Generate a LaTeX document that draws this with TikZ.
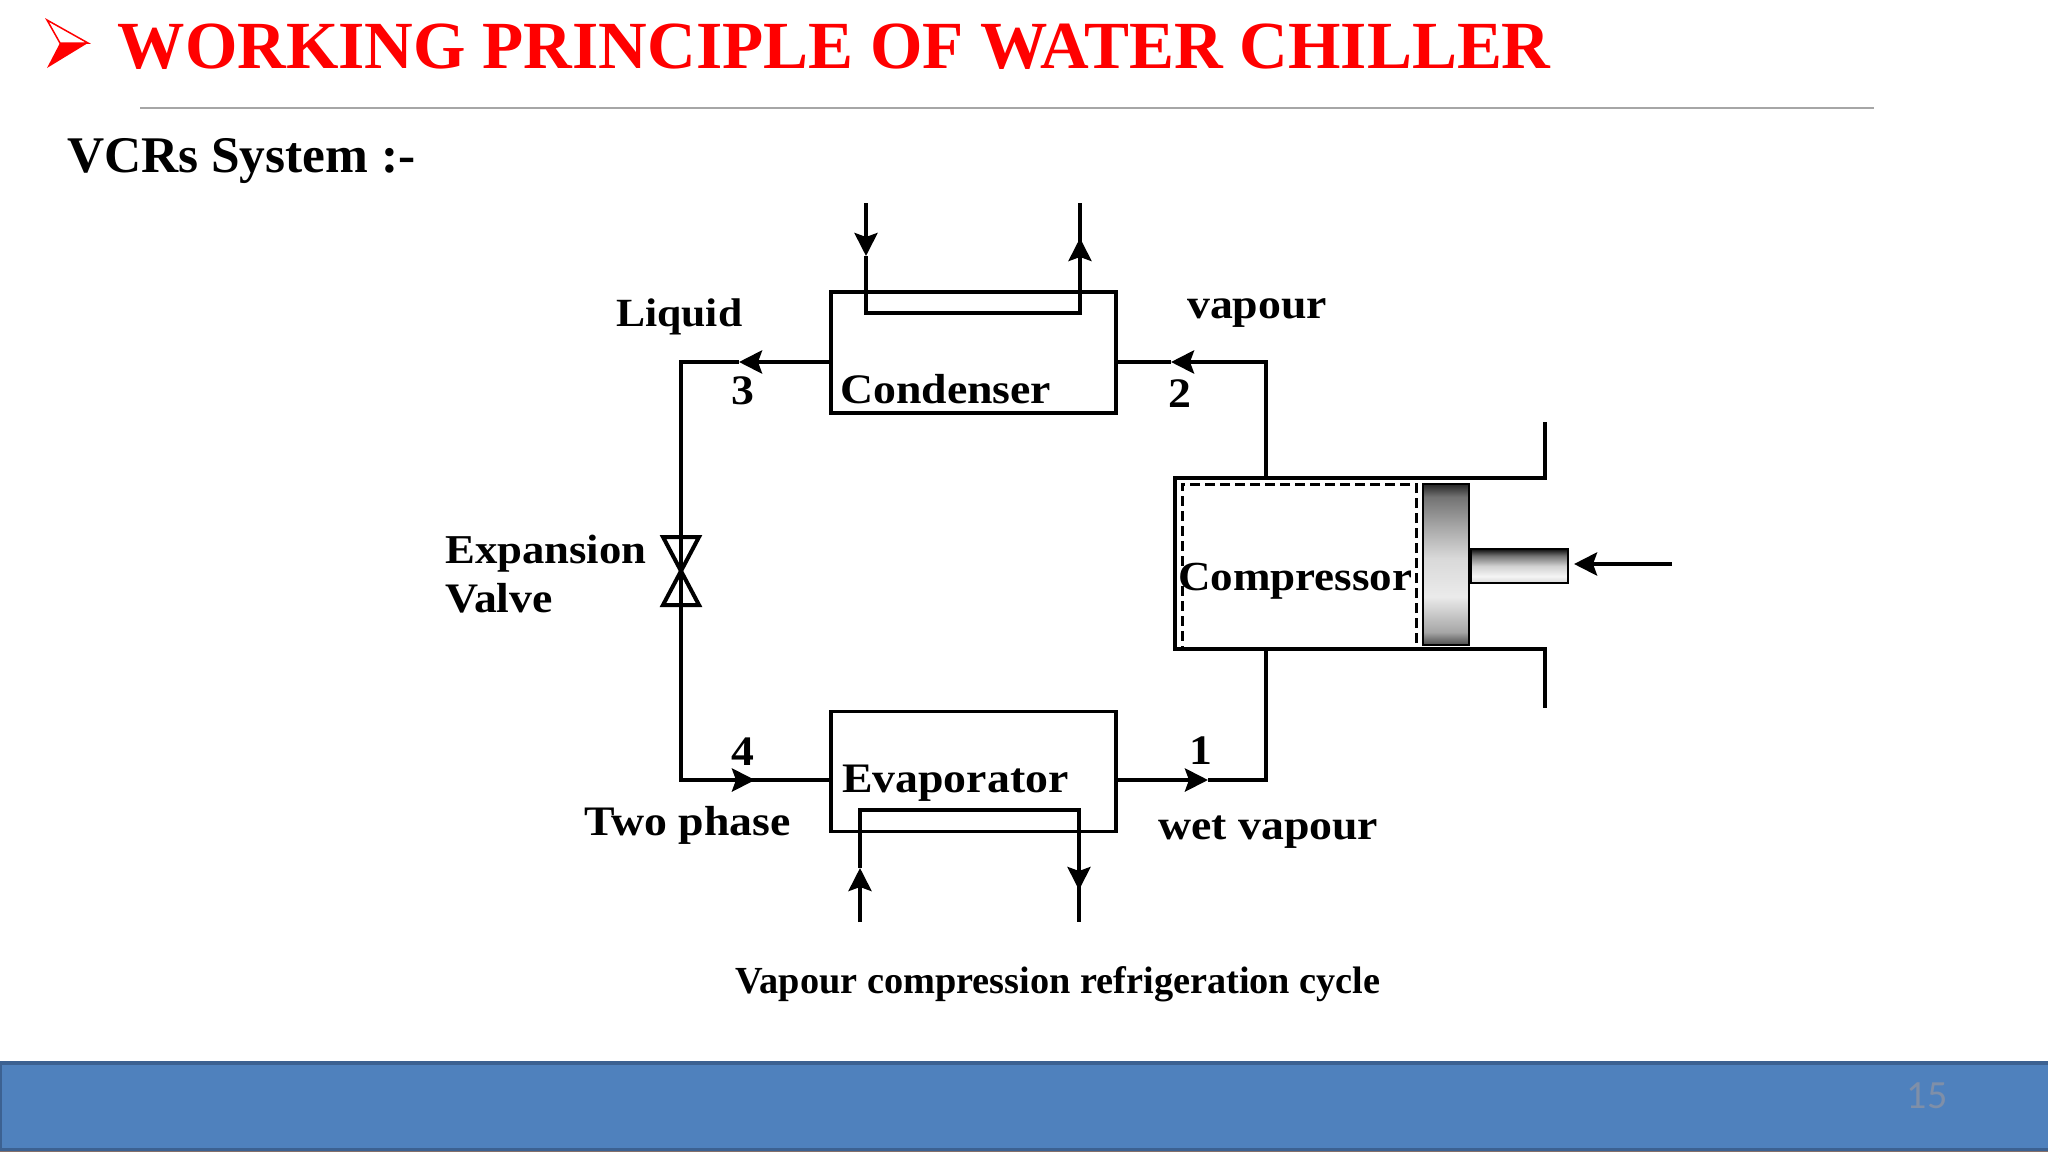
\documentclass[tikz,border=0pt]{standalone}
\usepackage{fontspec}
\setmainfont{Liberation Serif}
\newfontfamily\labelfamily[FakeStretch=1.09]{Liberation Serif}
\newfontfamily\pagefamily{Carlito}
\usetikzlibrary{arrows.meta}
\usetikzlibrary{positioning}
\definecolor{footerblue}{HTML}{4F81BD}
\definecolor{footeredge}{HTML}{3C6191}
\definecolor{footerstrip}{HTML}{85706A}
\definecolor{pagegrey}{HTML}{7F8FA8}
\pgfdeclareverticalshading{pistonshade}{100bp}{color(0bp)=(black!70);color(25bp)=(black!70);color(29bp)=(black!35);color(40bp)=(black!8);color(52bp)=(black!15);color(62bp)=(black!35);color(71bp)=(black!55);color(75bp)=(black!85);color(100bp)=(black!85)}
\pgfdeclareverticalshading{rodshade}{100bp}{color(0bp)=(black!15);color(25bp)=(black!15);color(35bp)=(black!4);color(50bp)=(black!18);color(65bp)=(black!55);color(75bp)=(black!95);color(100bp)=(black!95)}

\begin{document}
\begin{tikzpicture}
      [x=1pt,y=-1pt,
      wire/.style={line width=4.4pt},
      coil/.style={line width=4pt},
      unitbox/.style={shape=rectangle,draw,line width=3.6pt,inner sep=0},
      flowtip/.style={-{Stealth[length=23pt,width=23pt,inset=4pt]}},
      textlabel/.style={anchor=base west,inner sep=0,font=\labelfamily\bfseries\fontsize{42}{42}\selectfont}]
\useasboundingbox (0,0) rectangle (2048,1152);

\node (footer) [shape=rectangle,fill=footerblue,draw=footeredge,line width=4pt,
   minimum width=2052pt,minimum height=87pt,anchor=north west,inner sep=0] at (-2,1061) {};
\fill[footerstrip] (0,1150.5) rectangle (2048,1152);
\node (pagenum) [anchor=base,inner sep=0,text=pagegrey,font=\pagefamily\fontsize{40}{40}\selectfont] at (1927,1108) {15};

\fill[red] (60,43) -- (88,43) -- (47,68) -- cycle;
\draw[red,line width=1.5pt,line join=miter] (47,20) -- (88,43) -- (60,43) -- cycle;
\node (title) [anchor=base west,inner sep=0,text=red,font=\bfseries\fontsize{67.4}{67.4}\selectfont] at (117.5,68) {WORKING PRINCIPLE OF WATER CHILLER};
\node (titlerule) [shape=rectangle,fill=black!35,minimum width=1734pt,minimum height=1.5pt,inner sep=0,anchor=west] at (140,108) {};
\node (subtitle) [anchor=base west,inner sep=0,font=\bfseries\fontsize{51.4}{51.4}\selectfont] at (67,172) {VCRs System :-};

% condenser and evaporator
\node (condenser) [unitbox,minimum width=285pt,minimum height=121pt] at (973.5,352.5) {};
\node (evaporator) [unitbox,minimum width=285pt,minimum height=120pt] at (973.5,771.5) {};
\node (condensertext) [textlabel] at (840,403) {Condenser};
\node (evaporatortext) [textlabel] at (842,792) {Evaporator};

% compressor
\node (compressor) [shape=rectangle,draw,dashed,line width=3pt,dash pattern=on 10pt off 5pt,
   minimum width=234pt,minimum height=165pt,inner sep=0] at (1299,566.5) {};
\node (comptext) [textlabel,font=\labelfamily\bfseries\fontsize{41.3}{41.3}\selectfont] at (1178,590) {Compressor};
\node (piston) [shape=rectangle,draw,line width=2pt,shading=pistonshade,minimum width=46pt,minimum height=161pt,inner sep=0] at (1446,564.5) {};
\node (rod) [shape=rectangle,draw,line width=1.5pt,shading=rodshade,minimum width=97pt,minimum height=34pt,inner sep=0,anchor=west] at (piston.east |- 0,566) {};

\coordinate (cyltopend) at (1545,422);
\coordinate (cyltopright) at (1545,478);
\coordinate (cyltopleft) at (1175,478);
\coordinate (cylbotleft) at (1175,649);
\coordinate (cylbotright) at (1545,649);
\coordinate (cylbotend) at (1545,708);
\draw[coil,line join=miter] (cyltopend) -- (cyltopright) -- (cyltopleft) -- (cylbotleft) -- (cylbotright) -- (cylbotend);

\coordinate (pushstart) at (1672,564);
\coordinate (pushtip) at (1574,564);
\draw[wire,flowtip] (pushstart) -- (pushtip);

% refrigerant loop
\coordinate (condleft) at (831,362);
\coordinate (condright) at (1116,362);
\coordinate (tipthree) at (739,362);
\coordinate (tiptwo) at (1171,362);
\coordinate (cornertl) at (681,362);
\coordinate (cornertr) at (1266,362);
\coordinate (comptop) at (1266,478);
\coordinate (compbot) at (1266,649);
\coordinate (cornerbr) at (1266,780);
\coordinate (cornerbl) at (681,780);
\coordinate (evapleft) at (831,780);
\coordinate (evapright) at (1116,780);
\coordinate (tipfour) at (755,780);
\coordinate (tipone) at (1208,780);
\coordinate (valve) at (681,571);

\draw[wire,flowtip] (condleft) -- (tipthree);
\draw[wire,line join=miter] (tipthree) -- (cornertl) -- ([yshift=-34pt]valve);
\draw[wire,line join=miter,flowtip] (comptop) -- (cornertr) -- (tiptwo);
\draw[wire] (tiptwo) -- (condright);
\draw[wire,line join=miter] ([yshift=34pt]valve) -- (cornerbl) -- (evapleft);
\draw[wire,flowtip] (cornerbl) -- (tipfour);
\draw[wire,flowtip] (evapright) -- (tipone);
\draw[wire,line join=miter] (tipone) -- (cornerbr) -- (compbot);

% expansion valve
\draw[line width=4pt,line join=miter] ([shift={(-18,-34)}]valve) -- ([shift={(18,-34)}]valve) -- ([shift={(-18,34)}]valve) -- ([shift={(18,34)}]valve) -- cycle;

% water coils
\coordinate (condinlet) at (866,203);
\coordinate (condinbot) at (866,313);
\coordinate (condoutbot) at (1080,313);
\coordinate (condoutlet) at (1080,203);
\coordinate (condintip) at (866,256);
\coordinate (condouttip) at (1080,238);
\draw[coil,flowtip] (condinlet) -- (condintip);
\draw[coil,line join=miter] (condintip) -- (condinbot) -- (condoutbot) -- (condouttip);
\draw[coil,flowtip] (condoutbot) -- (condouttip);
\draw[coil] (condouttip) -- (condoutlet);

\coordinate (evapinlet) at (860,922);
\coordinate (evapintop) at (860,810);
\coordinate (evapouttop) at (1079,810);
\coordinate (evapoutlet) at (1079,922);
\coordinate (evapintip) at (860,868);
\coordinate (evapouttip) at (1079,890);
\draw[coil,flowtip] (evapinlet) -- (evapintip);
\draw[coil,line join=miter] (evapintip) -- (evapintop) -- (evapouttop) -- (evapouttip);
\draw[coil,flowtip] (evapouttop) -- (evapouttip);
\draw[coil] (evapouttip) -- (evapoutlet);

% labels
\node (liquid) [textlabel,font=\labelfamily\bfseries\fontsize{40}{40}\selectfont] at (616,326) {Liquid};
\node (vapour) [textlabel] at (1187,318) {vapour};
\node (expansion) [textlabel,font=\labelfamily\bfseries\fontsize{41}{41}\selectfont] at (445,563) {Expansion};
\node (valvetext) [textlabel] at (445,612) {Valve};
\node (twophase) [textlabel] at (584,835) {Two phase};
\node (wetvapour) [textlabel] at (1158,839) {wet vapour};
\node (three) [textlabel,anchor=base] at (743,404) {3};
\node (two) [textlabel,anchor=base] at (1180,407) {2};
\node (four) [textlabel,anchor=base] at (743,765) {4};
\node (one) [textlabel,anchor=base] at (1201,764) {1};
\node (caption) [anchor=base,inner sep=0,font=\bfseries\fontsize{38.3}{38.3}\selectfont] at (1058,993) {Vapour compression refrigeration cycle};
\end{tikzpicture}
\end{document}
